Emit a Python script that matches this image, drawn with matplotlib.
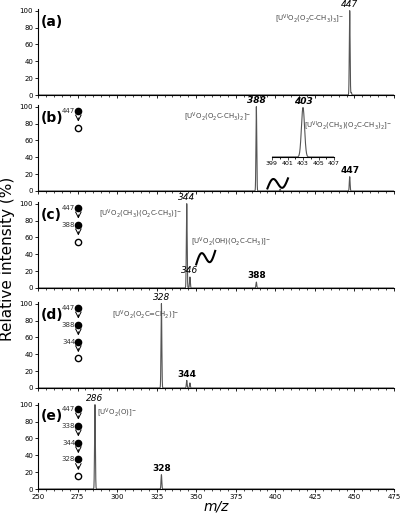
import numpy as np
import matplotlib.pyplot as plt
from matplotlib.ticker import MultipleLocator

# peak lists per panel (m/z, relative intensity)
mz_a = [447, 448]
int_a = [100, 3]
mz_b = [388, 403, 447]
int_b = [100, 2, 17]
mz_c = [344, 346, 388]
int_c = [100, 13, 7]
mz_d = [328, 344, 346]
int_d = [100, 9, 6]
mz_e = [286, 328]
int_e = [100, 17]

inset_mz = [403]
inset_int = [90]

labels = ['(a)', '(b)', '(c)', '(d)', '(e)']
chains = [[], ['447'], ['447', '388'], ['447', '388', '344'], ['447', '338', '344', '328']]

panels = [(mz_a, int_a), (mz_b, int_b), (mz_c, int_c), (mz_d, int_d), (mz_e, int_e)]

def profile(x, mzs, ints, w=0.25):
    y = np.zeros_like(x)
    for m, i in zip(mzs, ints):
        y += i * np.exp(-0.5 * ((x - m) / w) ** 2)
    return y

fig = plt.figure(figsize=(4.02, 5.17), dpi=100)
tops = [9, 105, 202, 302, 403]
h = 86
x = np.linspace(250, 475, 20000)
axes = []
for k, (mzs, ints) in enumerate(panels):
    y0 = 1 - (tops[k] + h) / 517
    ax = fig.add_axes([38 / 402, y0, 356 / 402, h / 517])
    ax.plot(x, profile(x, mzs, ints), color='#555555', lw=0.8)
    ax.set_xlim(250, 475)
    ax.set_ylim(0, 102)
    ax.spines['top'].set_visible(False)
    ax.spines['right'].set_visible(False)
    ax.xaxis.set_major_locator(MultipleLocator(25))
    ax.xaxis.set_minor_locator(MultipleLocator(5))
    ax.yaxis.set_major_locator(MultipleLocator(20))
    ax.tick_params(labelsize=5, length=2, width=0.6, pad=1.5)
    ax.tick_params(which='minor', length=1.5, width=0.5)
    if k < 4:
        ax.tick_params(labelbottom=False)
    ax.text(0.008, 0.93, labels[k], transform=ax.transAxes, fontsize=10,
            fontweight='bold', va='top')
    # precursor chain
    n = len(chains[k])
    if n:
        cx = 275.5
        for j, c in enumerate(chains[k]):
            cy = 95 - j * 20
            ax.plot(cx, cy, 'o', color='black', ms=4.5)
            ax.text(cx - 2, cy, c, fontsize=5, ha='right', va='center', color='#333333')
            ax.annotate('', xy=(cx, cy - 16), xytext=(cx, cy - 5),
                        arrowprops=dict(arrowstyle='->', lw=0.7))
        ax.plot(cx, 95 - n * 20, 'o', mfc='white', mec='black', ms=4.5, mew=1)
    axes.append(ax)
axes[-1].set_xlabel('m/z', fontsize=10, style='italic', labelpad=0)
fig.text(0.018, 0.5, 'Relative intensity (%)', rotation=90, fontsize=11,
         va='center', ha='center')

fs = 5
a, b, c, d, e = axes
a.text(447, 102, '447', fontsize=6.5, style='italic', ha='center', va='bottom')
a.text(443, 88, r'[U$^{\rm VI}$O$_2$(O$_2$C-CH$_3$)$_3$]$^{-}$', fontsize=fs, ha='right', color='#444444')
b.text(388, 102, '388', fontsize=6.5, style='italic', fontweight='bold', ha='center', va='bottom')
b.text(385, 86, r'[U$^{\rm V}$O$_2$(O$_2$C-CH$_3$)$_2$]$^{-}$', fontsize=fs, ha='right', color='#444444')
b.text(447, 19, '447', fontsize=6.5, fontweight='bold', ha='center', va='bottom')
b.text(418, 75, r'[U$^{\rm VI}$O$_2$(CH$_3$)(O$_2$C-CH$_3$)$_2$]$^{-}$', fontsize=fs, ha='left', color='#444444')
c.text(344, 102, '344', fontsize=6.5, style='italic', ha='center', va='bottom')
c.text(341, 86, r'[U$^{\rm V}$O$_2$(CH$_3$)(O$_2$C-CH$_3$)]$^{-}$', fontsize=fs, ha='right', color='#444444')
c.text(347, 52, r'[U$^{\rm V}$O$_2$(OH)(O$_2$C-CH$_3$)]$^{-}$', fontsize=fs, ha='left', color='#444444')
c.text(346, 15, '346', fontsize=6.5, style='italic', ha='center', va='bottom')
c.text(388, 9, '388', fontsize=6.5, fontweight='bold', ha='center', va='bottom')
d.text(328, 102, '328', fontsize=6.5, style='italic', ha='center', va='bottom')
d.text(297, 85, r'[U$^{\rm V}$O$_2$(O$_2$C=CH$_2$)]$^{-}$', fontsize=fs, ha='left', color='#444444')
d.text(344, 11, '344', fontsize=6.5, fontweight='bold', ha='center', va='bottom')
e.text(286, 102, '286', fontsize=6.5, style='italic', ha='center', va='bottom')
e.text(287.5, 88, r'[U$^{\rm V}$O$_2$(O)]$^{-}$', fontsize=fs, ha='left', color='#444444')
e.text(328, 19, '328', fontsize=6.5, fontweight='bold', ha='center', va='bottom')

# wavy connectors
t = np.linspace(0, 1, 50)
b.plot(395 + 13 * t, 3 + 12 * t + 8 * np.sin(2 * np.pi * t), color='black', lw=1.5)
c.plot(350 + 12 * t, 28 + 16 * t + 9 * np.sin(2 * np.pi * t), color='black', lw=1.5)

# inset in panel b
ins = fig.add_axes([272 / 402, 1 - 157 / 517, 62 / 402, 55 / 517])
xi = np.linspace(399, 407, 800)
ins.plot(xi, profile(xi, inset_mz, inset_int, w=0.2), color='#555555', lw=0.8)
ins.set_xlim(399, 407)
ins.set_ylim(0, 100)
ins.set_xticks([399, 401, 403, 405, 407])
ins.xaxis.set_minor_locator(MultipleLocator(1))
ins.set_yticks([])
for s in ['top', 'right', 'left']:
    ins.spines[s].set_visible(False)
ins.patch.set_alpha(0)
ins.tick_params(labelsize=4.5, length=2, width=0.5, pad=1)
ins.tick_params(which='minor', length=1.5)
ins.text(403, 92, '403', fontsize=6.5, style='italic', fontweight='bold', ha='center', va='bottom')

fig.savefig('out.png', dpi=100)
